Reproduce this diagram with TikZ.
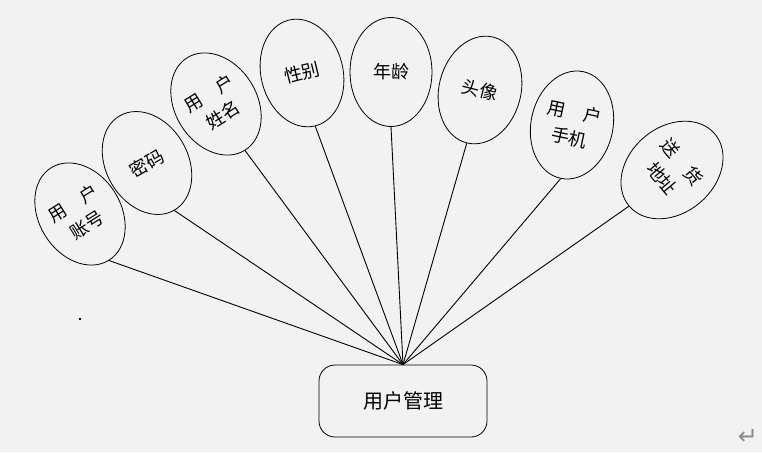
\documentclass[tikz,border=0pt]{standalone}
\usepackage{fontspec}
\newfontfamily\cjk{Noto Sans CJK SC}
\newfontfamily\dejavu{DejaVu Sans}
\usetikzlibrary{shapes.geometric}
\definecolor{bg}{HTML}{F2F2F2}
\begin{document}
\begin{tikzpicture}[x=1pt,y=-1pt,
  attr/.style={ellipse, draw=black, line width=0.8pt, minimum width=82pt, minimum height=109pt,
    inner sep=0pt, font=\cjk\fontsize{18}{26}\selectfont, align=center},
  link/.style={draw=black, line width=0.9pt},
  mgr/.style={draw=black, line width=0.8pt, rounded corners=16pt, minimum width=168pt,
    minimum height=72pt, font=\cjk\fontsize{20}{24}\selectfont}]
\fill[bg] (0,0) rectangle (762,452);
\useasboundingbox (0,0) rectangle (762,452);
\node[attr, rotate=32] (e1) at (80,214) {用\hspace{1em}户\\账号};
\node[attr, rotate=30] (e2) at (147,163) {密码};
\node[attr, rotate=32] (e3) at (216,104) {用\hspace{1em}户\\姓名};
\node[attr, rotate=14] (e4) at (302,73) {性别};
\node[attr] (e5) at (391,72) {年龄};
\node[attr, rotate=-14] (e6) at (480,90) {头像};
\node[attr, rotate=-12] (e7) at (572,125) {用\hspace{1em}户\\手机};
\node[attr, rotate=-50, minimum width=86pt, minimum height=112pt] (e8) at (672,170) {送\hspace{1em}货\\地址};
\node[mgr] (m) at (403,401) {用户管理};
\foreach \e in {e1,e2,e3,e4,e5,e6,e7,e8}
  \draw[link] (\e.south) -- (m.north);
\fill[black] (79,318) rectangle (81,320);
\node[text=black!45, font=\dejavu\fontsize{24}{24}\selectfont, inner sep=0pt] (ret) at (748,437) {↵};
\end{tikzpicture}
\end{document}
